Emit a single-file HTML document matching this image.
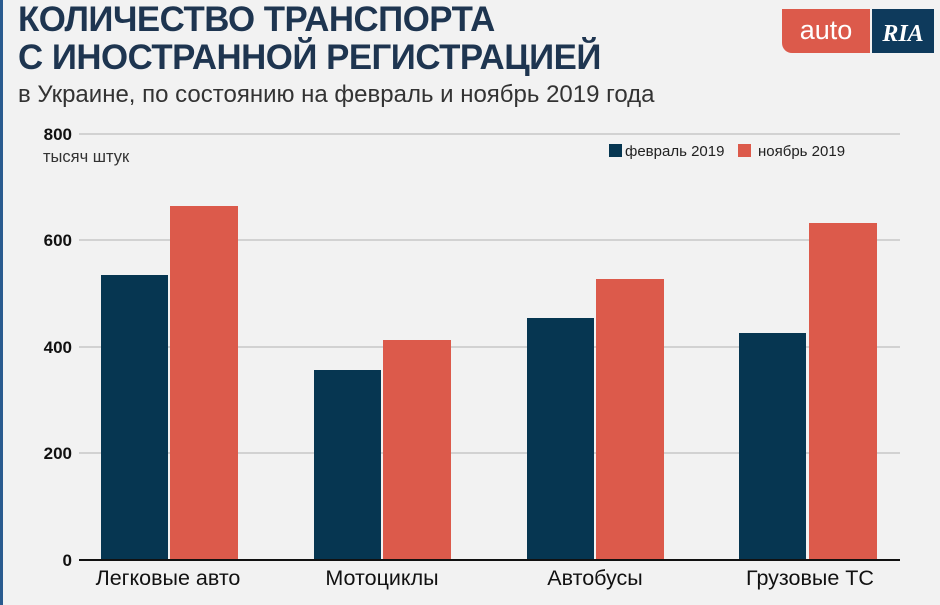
<!DOCTYPE html>
<html><head><meta charset="utf-8"><style>
body{margin:0;width:940px;height:605px;background:#f2f2f2;position:relative;overflow:hidden;font-family:"Liberation Sans",sans-serif}
.t{position:absolute;left:18px;font-weight:bold;font-size:35px;color:#1e3550;line-height:38px;letter-spacing:-0.5px;transform:scaleX(0.995);transform-origin:left}
</style></head><body>
<div style="position:absolute;left:0;top:0;width:3px;height:605px;background:#2a5b8f"></div>
<div class="t" style="top:1px">КОЛИЧЕСТВО ТРАНСПОРТА</div>
<div class="t" style="top:39px">С ИНОСТРАННОЙ РЕГИСТРАЦИЕЙ</div>
<div style="position:absolute;left:18px;top:81px;font-size:24px;color:#333">в Украине, по состоянию на февраль и ноябрь 2019 года</div>
<div style="position:absolute;left:782px;top:9px;width:88px;height:44px;background:#dc5a4b;border-bottom-left-radius:10px;color:#fff;font-size:27px;line-height:42px;text-align:center">auto</div>
<div style="position:absolute;left:872px;top:9px;width:62px;height:44px;background:#0e3a5c;color:#fff;font-family:'Liberation Serif',serif;font-weight:bold;font-size:24px;line-height:50px;text-align:center;font-style:italic">RIA</div>
<svg width="940" height="605" style="position:absolute;left:0;top:0" font-family="Liberation Sans, sans-serif">
<g stroke="#c8c8c8" stroke-width="1.5">
<line x1="79" x2="900" y1="134" y2="134"/><line x1="79" x2="900" y1="240" y2="240"/><line x1="79" x2="900" y1="347" y2="347"/><line x1="79" x2="900" y1="453" y2="453"/></g>
<g font-weight="bold" font-size="17" fill="#111" text-anchor="end">
<text x="72" y="140">800</text><text x="72" y="246">600</text><text x="72" y="353">400</text><text x="72" y="459">200</text><text x="72" y="566">0</text></g>
<text x="43" y="162" font-size="16.5" fill="#333">тысяч штук</text>
<rect x="609" y="144" width="13" height="13" fill="#063651"/><text x="625" y="156" font-size="15" fill="#222">февраль 2019</text>
<rect x="738" y="144" width="13" height="13" fill="#dc5a4b"/><text x="758" y="156" font-size="15" fill="#222">ноябрь 2019</text>
<g fill="#063651">
<rect x="101" y="275" width="67" height="285"/><rect x="314" y="370" width="67" height="190"/><rect x="527" y="318" width="67" height="242"/><rect x="739" y="333" width="67" height="227"/></g>
<g fill="#dc5a4b">
<rect x="170" y="206" width="68" height="354"/><rect x="383" y="340" width="68" height="220"/><rect x="596" y="279" width="68" height="281"/><rect x="809" y="223" width="68" height="337"/></g>
<line x1="79" x2="900" y1="560" y2="560" stroke="#111" stroke-width="2"/>
<g font-size="21.5" fill="#111" text-anchor="middle">
<text x="168" y="585">Легковые авто</text><text x="382" y="585">Мотоциклы</text><text x="595" y="585">Автобусы</text><text x="810" y="585">Грузовые ТС</text></g>
</svg>
</body></html>
